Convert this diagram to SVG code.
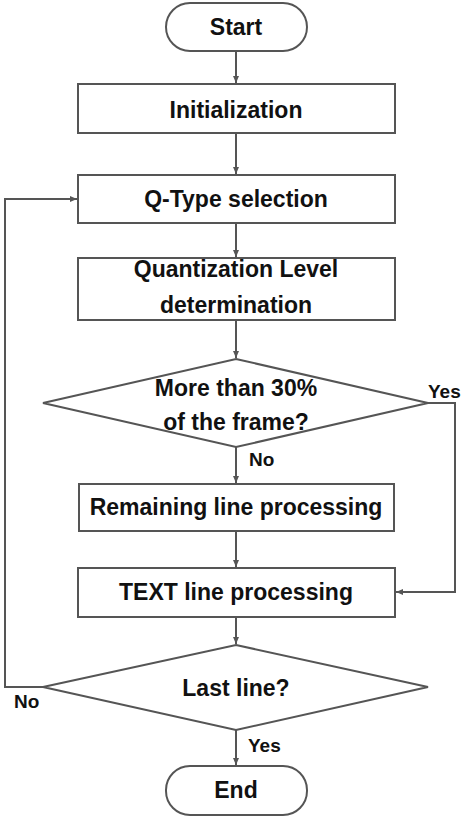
<svg xmlns="http://www.w3.org/2000/svg" width="474" height="822" viewBox="0 0 474 822">
<style>
.box{fill:#fff;stroke:#555;stroke-width:2}
.t{font-family:"Liberation Sans",Arial,sans-serif;font-weight:bold;font-size:23px;fill:#111;text-anchor:middle}
.l{font-family:"Liberation Sans",Arial,sans-serif;font-weight:bold;font-size:19px;fill:#111}
.c{fill:none;stroke:#555;stroke-width:2}
</style>
<defs>
<marker id="a" markerWidth="8" markerHeight="8" refX="7" refY="4" orient="auto" markerUnits="userSpaceOnUse">
<path d="M0,1 L7,4 L0,7 Z" fill="#555"/>
</marker>
</defs>
<rect width="474" height="822" fill="#fff"/>
<g id="connectors">
<line class="c" x1="236" y1="51" x2="236" y2="83" marker-end="url(#a)"/>
<line class="c" x1="236" y1="133" x2="236" y2="174" marker-end="url(#a)"/>
<line class="c" x1="236" y1="223" x2="236" y2="257" marker-end="url(#a)"/>
<line class="c" x1="236" y1="320" x2="236" y2="358" marker-end="url(#a)"/>
<line class="c" x1="236" y1="447" x2="236" y2="483" marker-end="url(#a)"/>
<line class="c" x1="236" y1="531" x2="236" y2="567" marker-end="url(#a)"/>
<line class="c" x1="236" y1="617" x2="236" y2="644" marker-end="url(#a)"/>
<line class="c" x1="236" y1="730" x2="236" y2="765" marker-end="url(#a)"/>
<polyline class="c" points="428,403 455,403 455,592 396,592" marker-end="url(#a)"/>
<polyline class="c" points="43,687 5,687 5,199 77,199" marker-end="url(#a)"/>
<text class="l" x="428" y="398">Yes</text>
<text class="l" x="249" y="466">No</text>
<text class="l" x="14" y="708">No</text>
<text class="l" x="248" y="752">Yes</text>
</g>
<g id="start">
<rect class="box" x="166" y="3" width="141" height="48" rx="24"/>
<text class="t" x="236" y="35">Start</text>
</g>
<g id="init">
<rect class="box" x="78" y="84" width="317" height="49"/>
<text class="t" x="236" y="118">Initialization</text>
</g>
<g id="qtype">
<rect class="box" x="78" y="175" width="317" height="48"/>
<text class="t" x="236" y="207">Q-Type selection</text>
</g>
<g id="qlevel">
<rect class="box" x="78" y="258" width="317" height="62"/>
<text class="t" x="236" y="277">Quantization Level</text>
<text class="t" x="236" y="313">determination</text>
</g>
<g id="d1">
<polygon class="box" points="236,359 428,403 236,447 43,403"/>
<text class="t" x="236" y="396">More than 30%</text>
<text class="t" x="236" y="430">of the frame?</text>
</g>
<g id="remain">
<rect class="box" x="79" y="484" width="315" height="47"/>
<text class="t" x="236" y="515">Remaining line processing</text>
</g>
<g id="textline">
<rect class="box" x="78" y="568" width="317" height="49"/>
<text class="t" x="236" y="600">TEXT line processing</text>
</g>
<g id="d2">
<polygon class="box" points="236,645 428,687 236,730 43,687"/>
<text class="t" x="236" y="696">Last line?</text>
</g>
<g id="end">
<rect class="box" x="166" y="766" width="141" height="49" rx="24"/>
<text class="t" x="236" y="798">End</text>
</g>
</svg>
